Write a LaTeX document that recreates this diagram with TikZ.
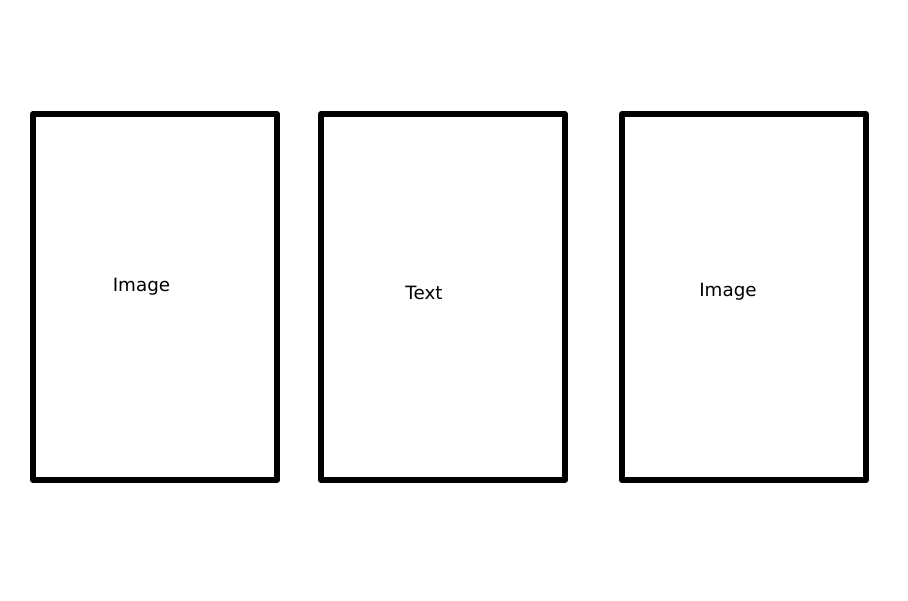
\documentclass[tikz,border=0pt]{standalone}
\usepackage{fontspec}
\setmainfont{DejaVu Sans}
\begin{document}
\begin{tikzpicture}[x=1pt,y=-1pt,
  panel/.style={draw=black,line width=6pt,line join=round,minimum width=244pt,minimum height=366pt,inner sep=0pt},
  lbl/.style={font=\fontsize{18.3}{22}\selectfont,inner sep=0pt}]
\useasboundingbox (0,0) rectangle (908,600);
\node[panel] (b1) at (155,297) {};
\node[panel] (b2) at (443,297) {};
\node[panel] (b3) at (744,297) {};
\node[lbl] (t1) at (141.5,287) {Image};
\node[lbl] (t2) at (424,293) {Text};
\node[lbl] (t3) at (728,292) {Image};
\end{tikzpicture}
\end{document}
